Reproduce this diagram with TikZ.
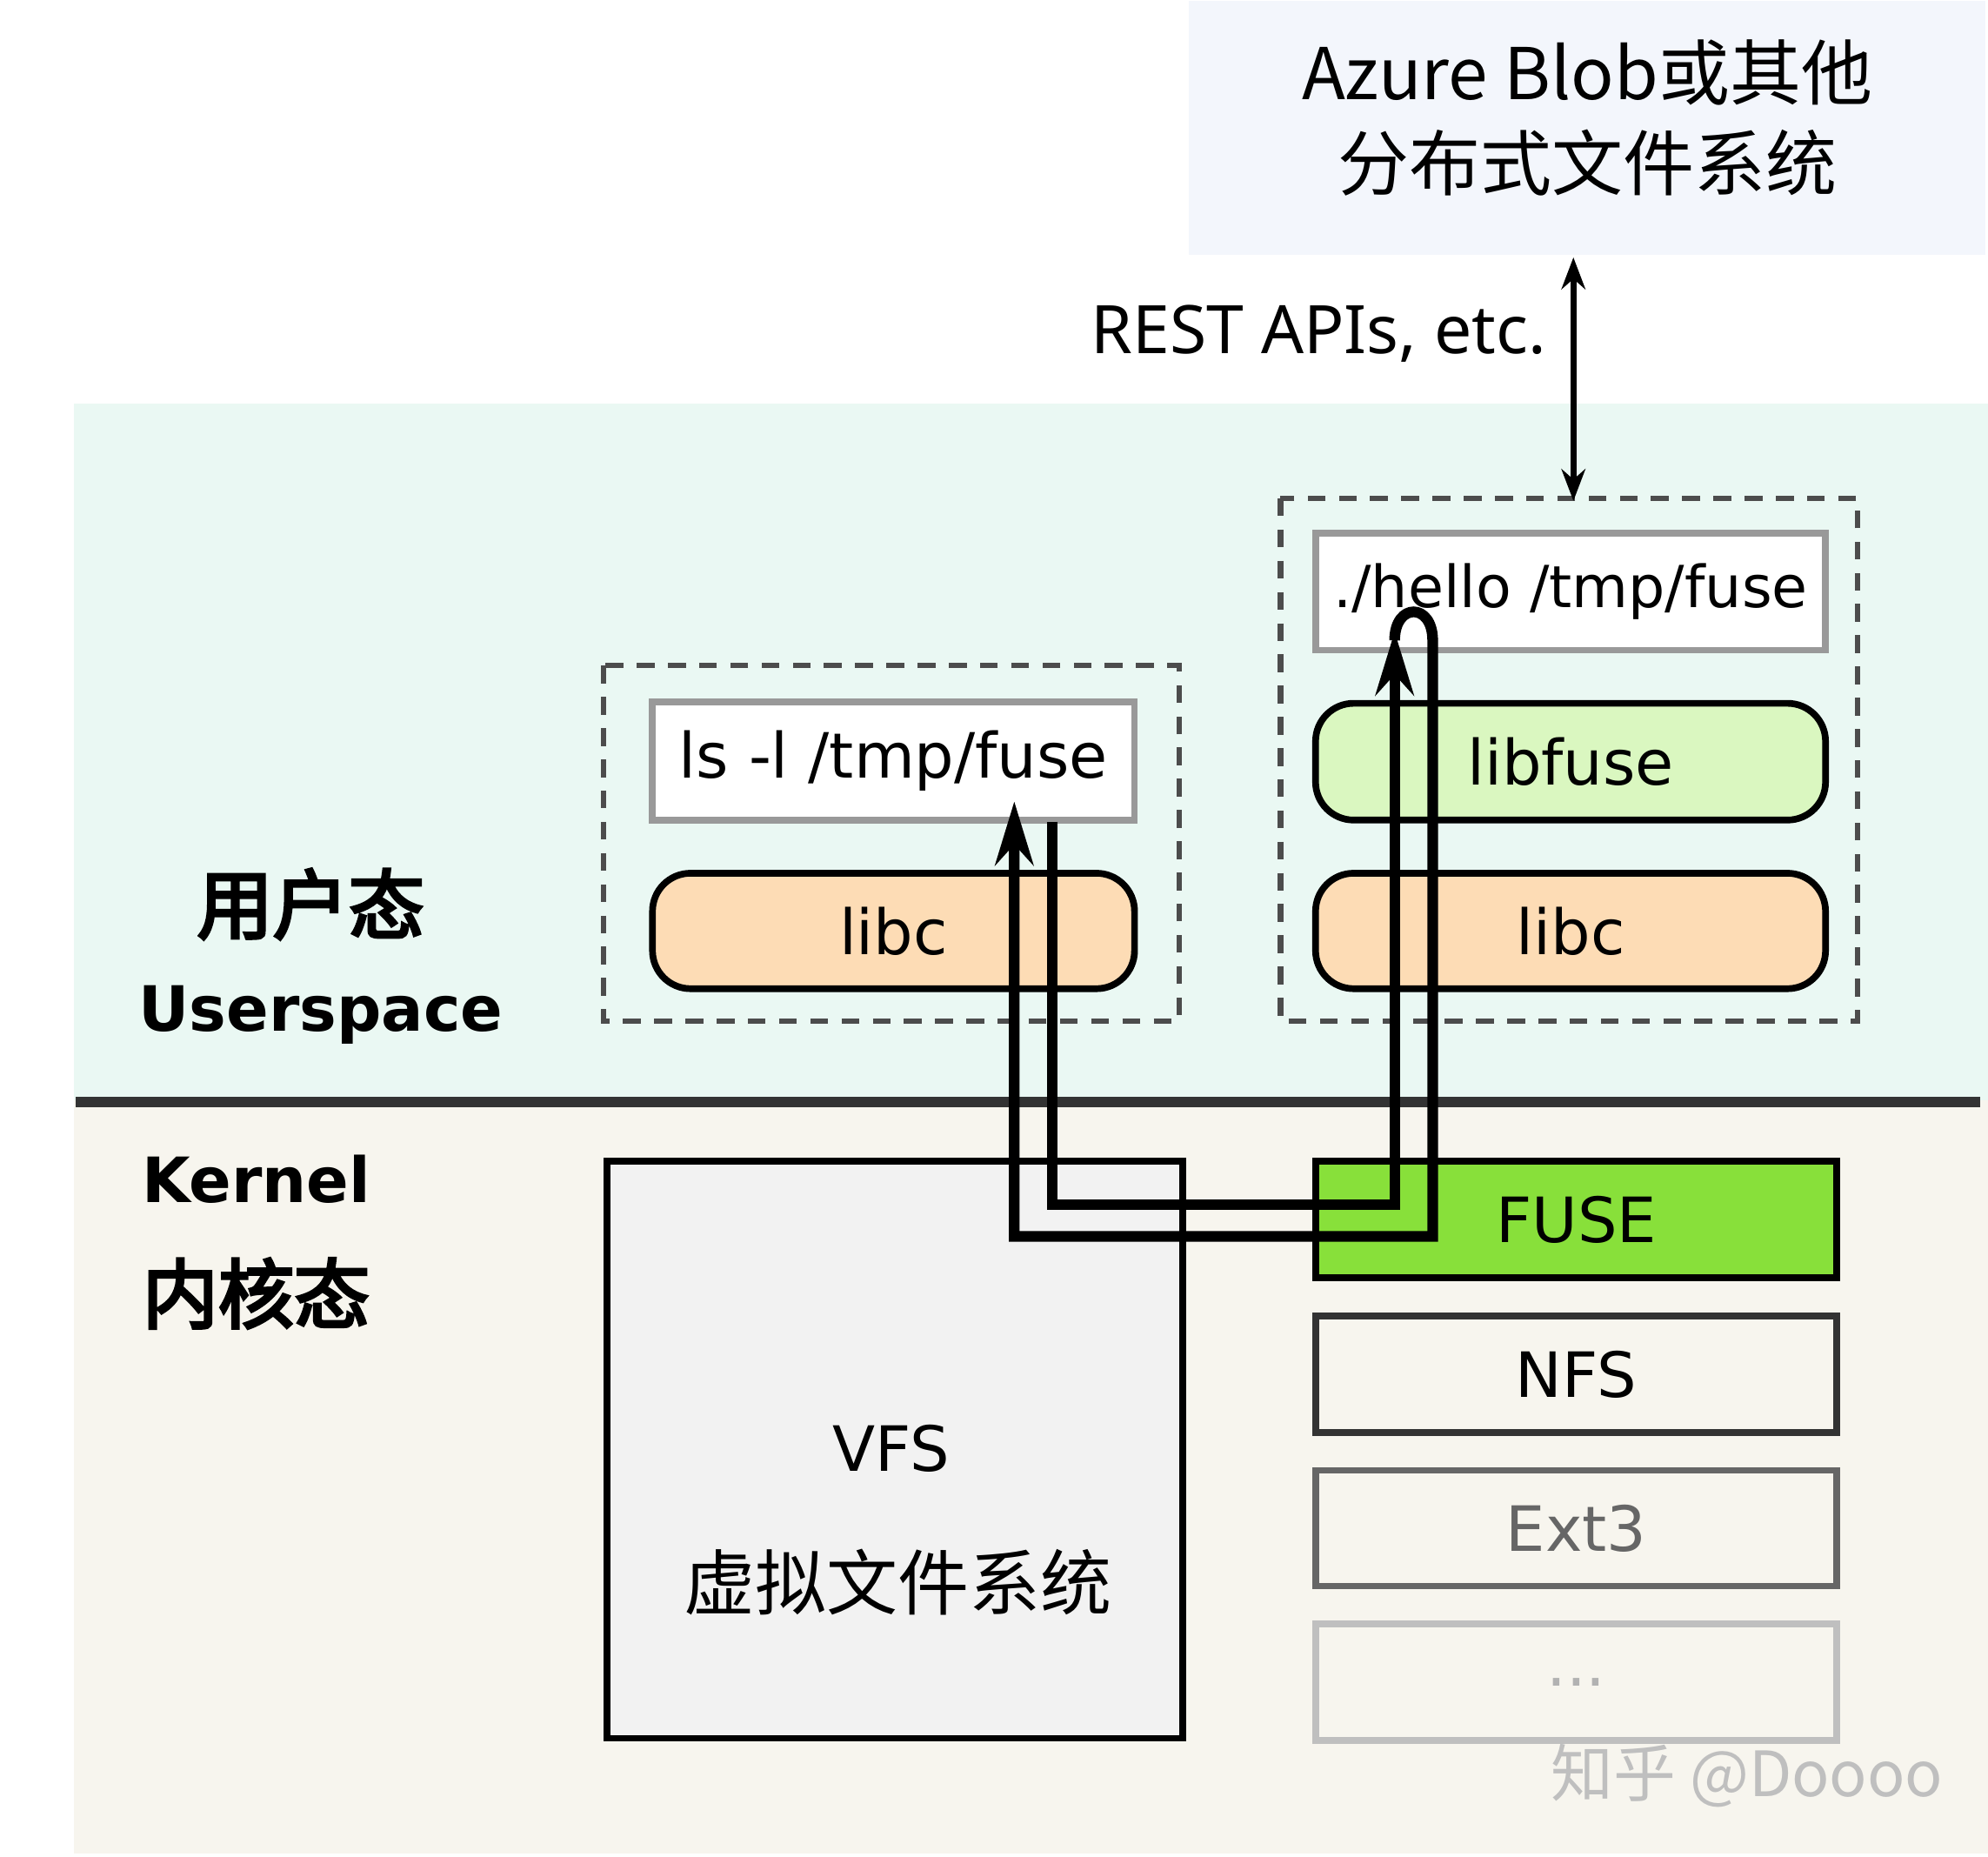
\documentclass[tikz,border=0pt]{standalone}
\usepackage{fontspec}
\setmainfont{DejaVu Sans}
\newfontfamily\noto{Noto Sans}
\newfontfamily\cjk{Noto Sans CJK SC}
\newfontfamily\cjkb{Noto Sans CJK SC}[FakeBold=4]
\usetikzlibrary{arrows.meta}
\definecolor{azure}{HTML}{F3F6FC}
\definecolor{userbg}{HTML}{EAF8F3}
\definecolor{kernbg}{HTML}{F7F5EE}
\definecolor{libcc}{HTML}{FDDCB5}
\definecolor{libfc}{HTML}{DAF7C0}
\definecolor{fusec}{HTML}{88E03A}
\begin{document}
\begin{tikzpicture}[x=0.01cm,y=-0.01cm,
  box/.style={draw,line width=1.5pt,inner sep=0},
  cmd/.style={box,draw=gray!80,fill=white},
  rbox/.style={box,draw=black,rounded corners=0.3cm},
  dbox/.style={draw=black!70,line width=1.2pt,dash pattern=on 4pt off 3pt},
  fl/.style={line width=2.4pt,-{Stealth[length=0.5cm,width=0.3cm]}},
  t/.style={font=\fontsize{14}{17}\selectfont}]
\useasboundingbox (0,0) rectangle (1568,1464);
\fill[userbg] (58,318) rectangle (1568,868);
\fill[kernbg] (58,868) rectangle (1568,1462);
\draw[line width=2.3pt,black!80] (60,869) -- (1562,869);
\node[fill=azure,minimum width=6.28cm,minimum height=2cm,anchor=north west,
  font=\cjk\fontsize{16}{19}\selectfont,align=center] (az) at (937,0)
  {\strut Azure Blob或其他\\ \strut 分布式文件系统};
% dashed boxes
\draw[dbox] (476,525) rectangle (930,805);
\draw[dbox] (1010,393) rectangle (1465,805);
\node[cmd,minimum width=3.8cm,minimum height=0.93cm,anchor=north west,t] (ls) at (512,551) {ls -l /tmp/fuse};
\node[rbox,fill=libcc,minimum width=3.8cm,minimum height=0.91cm,anchor=north west,t] (libc1) at (512,686) {libc};
\node[cmd,minimum width=4.02cm,minimum height=0.92cm,anchor=north west,font=\fontsize{13}{16}\selectfont] (hello) at (1035,418) {./hello /tmp/fuse};
\node[rbox,fill=libfc,minimum width=4.02cm,minimum height=0.92cm,anchor=north west,t] (libf) at (1035,552) {libfuse};
\node[rbox,fill=libcc,minimum width=4.02cm,minimum height=0.91cm,anchor=north west,t] (libc2) at (1035,686) {libc};
\coordinate (top) at (1241,395);
\draw[line width=1.3pt,{Stealth[length=0.25cm]}-{Stealth[length=0.25cm]}] (1241,203) -- (top);
\node[anchor=east,font=\noto\fontsize{15}{18}\selectfont] (rest) at (1232,263) {REST APIs, etc.};
% labels
\node[font=\cjkb\fontsize{17}{20}\selectfont] (yh) at (245,713) {用户态};
\node[font=\bfseries\fontsize{14}{17}\selectfont] (us) at (253,800) {Userspace};
\node[font=\bfseries\fontsize{14}{17}\selectfont] (kn) at (202,930) {Kernel};
\node[font=\cjkb\fontsize{17}{20}\selectfont] (nh) at (202,1020) {内核态};
% kernel boxes
\node[box,fill=black!5,minimum width=4.54cm,minimum height=4.55cm,anchor=north west] (vfs) at (476,913) {};
\node[t] (vfst) at (703,1142) {VFS};
\node[font=\cjk\fontsize{16}{19}\selectfont] (vfsc) at (708,1248) {虚拟文件系统};
\node[box,fill=fusec,minimum width=4.11cm,minimum height=0.92cm,anchor=north west,t] (fuse) at (1035,913) {FUSE};
\node[box,draw=black!80,minimum width=4.11cm,minimum height=0.92cm,anchor=north west,t] (nfs) at (1035,1035) {NFS};
\node[box,draw=black!60,text=black!60,minimum width=4.11cm,minimum height=0.91cm,anchor=north west,t] (ext) at (1035,1157) {Ext3};
\node[box,draw=black!25,text=black!30,minimum width=4.11cm,minimum height=0.92cm,anchor=north west,t] (dots) at (1035,1278) {...};
% flow arrows
\draw[fl] (830,648) -- (830,950) -- (1100,950) -- (1100,498);
\draw[fl] (1100,505) .. controls (1100,475) and (1130,475) .. (1130,505) -- (1130,975) -- (800,975) -- (800,632);
\node[text=black!25,font=\cjk\fontsize{14}{17}\selectfont] (wm) at (1378,1400) {知乎 @Doooo};
\end{tikzpicture}
\end{document}
